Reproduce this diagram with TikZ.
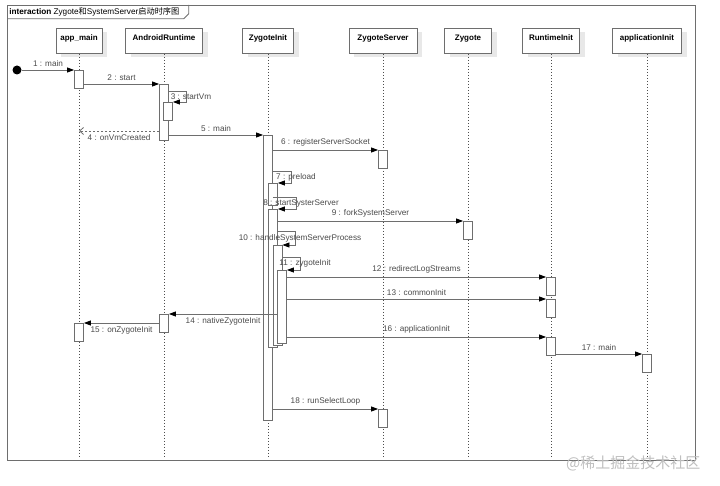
\documentclass[tikz,border=0pt]{standalone}
\usepackage{fontspec}
\setmainfont{Liberation Sans}
\newfontfamily\cjk{Noto Sans CJK SC}
\usetikzlibrary{arrows.meta}

\definecolor{umlgray}{HTML}{6E6E6E}
\definecolor{umltext}{HTML}{4A4A4A}

\begin{document}
\begin{tikzpicture}[x=1pt,y=-1pt,line width=0.8pt,
        head/.style={draw=umlgray,fill=white,anchor=north,minimum height=25pt,
        inner xsep=2pt,inner ysep=3pt,text height=9pt,text depth=10pt,
        font=\fontsize{8}{9}\selectfont\bfseries},
        shade box/.style={fill=black!9},
        life/.style={draw=umlgray!70!black,line width=0.6pt,dash pattern=on 1.5pt off 1.5pt},
        act/.style={draw=umlgray,fill=white,anchor=north,minimum width=9pt,inner sep=0pt},
        msg/.style={draw=umlgray,-{Triangle[length=7pt,width=5pt,color=black]}},
        ret/.style={draw=umlgray,dash pattern=on 2pt off 2pt,-{Straight Barb[length=4pt,width=7pt]}},
        lbl/.style={text=umltext,font=\fontsize{8.2}{9}\selectfont,inner sep=2pt}]
        \useasboundingbox (0,0) rectangle (720,486);

        % frame
        \draw[umlgray] (7,5) rectangle (695,460);
        \node[anchor=north west,inner xsep=2pt,inner ysep=0pt,minimum height=13pt,
        font=\fontsize{8.2}{9}\selectfont] (title) at (7,5)
        {\textbf{interaction} Zygote{\cjk 和}SystemServer{\cjk 启动时序图}};
        \draw[umlgray] (title.south west) -- ([xshift=2pt]title.south east)
        -- ([xshift=7pt,yshift=5pt]title.south east) -- ([xshift=7pt]title.north east);

        % lifelines
        \foreach \n/\x/\w/\txt in {am/79/46/app\_main, ar/164/77/AndroidRuntime,
            zi/268/51/ZygoteInit, zs/383/68/ZygoteServer, zy/468/47/Zygote,
            ri/551/57/RuntimeInit, ai/647/69/applicationInit}{
            \fill[shade box] ({\x-\w/2+5},32) rectangle ({\x+\w/2+5},57);
            \node[head,minimum width=\w pt] (\n) at (\x,28) {\txt};
            \draw[life] (\n.south) -- (\n.south |- 0,456);
        }

        % activations
        \node[act,minimum height=18pt] (am1) at (79,70) {};
        \node[act,minimum height=18pt] (am2) at (79,323) {};
        \node[act,minimum height=56pt] (ar1) at (164,84) {};
        \node[act,minimum height=18pt] (ar1b) at (168,102) {};
        \node[act,minimum height=18pt] (ar2) at (164,314) {};
        \node[act,minimum height=285pt] (zi1) at (268,135) {};
        \node[act,minimum height=22pt] (zip) at (273,183) {};
        \node[act,minimum height=138pt] (zia) at (273,209) {};
        \node[act,minimum height=100pt] (zib) at (277.5,245) {};
        \node[act,minimum height=73pt] (zic) at (282,270) {};
        \node[act,minimum height=18pt] (zs1) at (383,150) {};
        \node[act,minimum height=18pt] (zs2) at (383,409) {};
        \node[act,minimum height=18pt] (zy1) at (468,221) {};
        \node[act,minimum height=18pt] (ri1) at (551,277) {};
        \node[act,minimum height=18pt] (ri2) at (551,299) {};
        \node[act,minimum height=18pt] (ri3) at (551,337) {};
        \node[act,minimum height=18pt] (ai1) at (647,354) {};

        % found message
        \node[circle,fill=black,inner sep=0pt,minimum size=9pt] (init) at (17,70) {};
        \draw[msg] (init) -- (am1.north west) node[lbl,midway,above=1pt] {1 : main};

        % calls to the right
        \foreach \src/\dst/\txt in {am1/ar1/{2 : start}, ar1/zi1/{5 : main},
            zi1/zs1/{6 : registerServerSocket}, zia/zy1/{9 : forkSystemServer},
            zic/ri1/{12 : redirectLogStreams}, zic/ri2/{13 : commonInit},
            zic/ri3/{16 : applicationInit}, ri3/ai1/{17 : main},
            zi1/zs2/{18 : runSelectLoop}}{
            \draw[msg] (\src.east |- \dst.north) -- (\dst.north west)
            node[lbl,midway,above=1pt] {\txt};
        }

        % calls to the left
        \foreach \src/\dst/\txt in {zic/ar2/{14 : nativeZygoteInit},
            ar2/am2/{15 : onZygoteInit}}{
            \draw[msg] (\src.west |- \dst.north) -- (\dst.north east)
            node[lbl,midway,below=1pt] {\txt};
        }

        % return
        \draw[ret] (ar1.west |- 0,131) -- (am |- 0,131)
        node[lbl,midway,below=1pt] {4 : onVmCreated};

        % self calls
        \foreach \src/\dst/\ytop/\xr/\txt in {ar1/ar1b/91/186/{3 : startVm},
            zi1/zip/171/291/{7 : preload}, zi1/zia/197/296/{8 : startSysterServer},
            zia/zib/231/295/{10 : handleSystemServerProcess},
            zib/zic/257/300/{11 : zygoteInit}}{
            \draw[msg] (\src.east |- 0,\ytop) -- (\xr,\ytop) |- (\dst.north east)
            node[lbl,pos=0.25,xshift=5pt] {\txt};
        }

        % watermark
        \node[text=black!25,font=\cjk\fontsize{15}{15}\selectfont,anchor=east] (mark)
        at (704,463) {@稀土掘金技术社区};
    \end{tikzpicture}
\end{document}
